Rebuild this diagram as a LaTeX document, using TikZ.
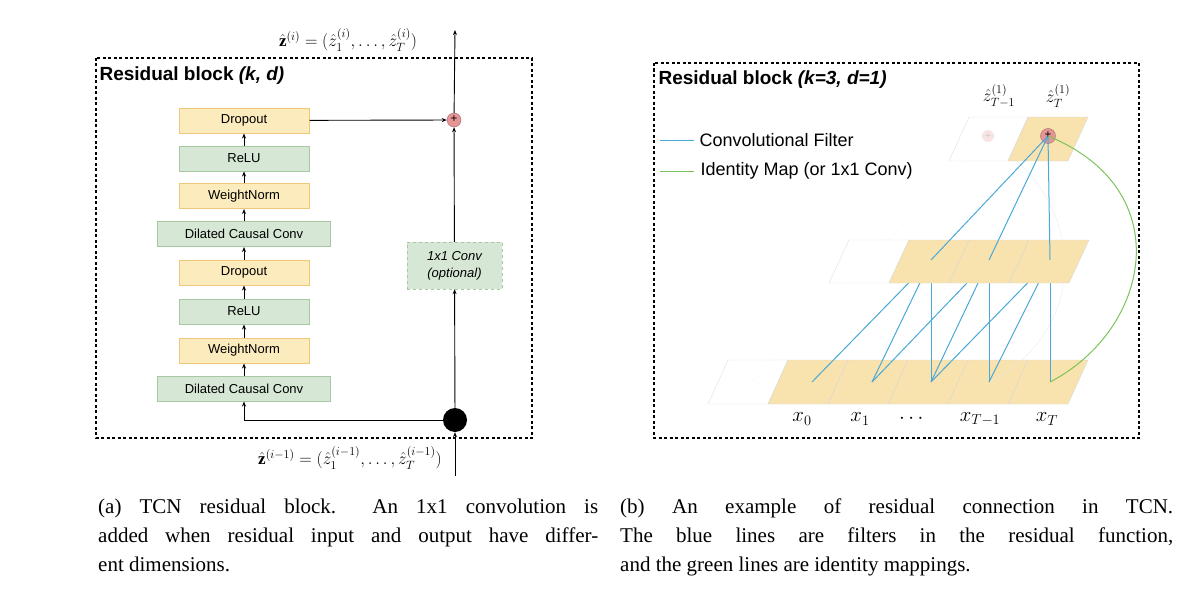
\documentclass[tikz,border=0pt]{standalone}
\usepackage{amsmath}
\usepackage{fontspec}
\setmainfont{Liberation Serif}
\newfontfamily\mysans{Liberation Sans}
\usetikzlibrary{arrows.meta}
\definecolor{yfill}{HTML}{FCEBBD}
\definecolor{ydraw}{HTML}{EFC77A}
\definecolor{gfill}{HTML}{D6E8D5}
\definecolor{gdraw}{HTML}{A8C8A4}
\definecolor{cell}{HTML}{F8E2AD}
\definecolor{blu}{HTML}{4AA8D8}
\definecolor{grn}{HTML}{7CC45A}
\definecolor{plusred}{HTML}{E69595}
\begin{document}
\begin{tikzpicture}[x=1pt,y=-1pt,
  yb/.style={draw=ydraw,fill=yfill,line width=1pt,minimum height=25pt,inner sep=0pt,font=\mysans\fontsize{13}{13}\selectfont},
  gb/.style={draw=gdraw,fill=gfill,line width=1pt,minimum height=25pt,inner sep=0pt,font=\mysans\fontsize{13}{13}\selectfont},
  arr/.style={-{Stealth[length=5pt,width=4pt]},line width=0.9pt},
  dbox/.style={draw,line width=1.4pt,dash pattern=on 3pt off 2.5pt},
  ttl/.style={anchor=west,font=\mysans\bfseries\fontsize{19}{19}\selectfont},
  c/.style={fill=cell,draw=white!85!black,line width=0.4pt},
  w/.style={fill=white,draw=black!12,line width=0.4pt},
  bl/.style={blu,line width=1pt},
  captxt/.style={anchor=north west,inner sep=0pt,font=\fontsize{21}{29}\selectfont}]
\useasboundingbox (0,0) rectangle (1180,602);
% ---------- left panel
\draw[dbox] (96,58) rectangle (532,438);
\node[ttl] at (96,76) {Residual block \textit{(k, d)}};
\node[yb,minimum width=130pt] (d1) at (244,120.5) {Dropout};
\node[gb,minimum width=130pt] (r1) at (244,158.5) {ReLU};
\node[yb,minimum width=130pt] (w1) at (244,196) {WeightNorm};
\node[gb,minimum width=173pt] (c1) at (244,234) {Dilated Causal Conv};
\node[yb,minimum width=130pt] (d2) at (244,272.5) {Dropout};
\node[gb,minimum width=130pt] (r2) at (244,311.5) {ReLU};
\node[yb,minimum width=130pt] (w2) at (244,350.5) {WeightNorm};
\node[gb,minimum width=173pt] (c2) at (244,388.5) {Dilated Causal Conv};
\node[draw=gdraw,fill=gfill,dashed,minimum width=95pt,minimum height=47pt,align=center,font=\mysans\itshape\fontsize{13}{17}\selectfont] (one) at (454.5,265.5) {1x1 Conv\\(optional)};
\node[circle,fill=plusred,draw=plusred!70!black,line width=0.4pt,minimum size=14pt,inner sep=0pt] (plus) at (454,120) {};
\node[font=\bfseries\fontsize{12}{12}\selectfont] at (454,119.5) {+};
\node[circle,fill=black,minimum size=24pt,inner sep=0pt] (dot) at (455,420) {};
\coordinate (top) at (455,30);
\coordinate (bot) at (455,476);
\foreach \a/\b in {c2/w2,w2/r2,r2/d2,d2/c1,c1/w1,w1/r1,r1/d1}
  \draw[arr] (\a) -- (\b);
\draw[arr] (d1) -- (plus);
\draw[arr] (dot) -- (one);
\draw[arr] (one) -- (plus);
\draw[arr] (plus) -- (top);
\draw[arr] (bot) -- (dot);
\draw[arr] (dot) -| (c2);
\node[font=\fontsize{17}{17}\selectfont] at (348,40) {$\hat{\mathbf{z}}^{(i)}=(\hat{z}^{(i)}_1,\ldots,\hat{z}^{(i)}_T)$};
\node[font=\fontsize{17}{17}\selectfont] at (350,458) {$\hat{\mathbf{z}}^{(i-1)}=(\hat{z}^{(i-1)}_1,\ldots,\hat{z}^{(i-1)}_T)$};
% ---------- right panel
\draw[dbox] (654,63) rectangle (1139,438);
\node[ttl] at (655,80) {Residual block \textit{(k=3, d=1)}};
% bottom row
\draw[w] (708,404) -- (768,404) -- (788,360) -- (728,360) -- cycle;
\foreach \i in {0,...,4}
  \draw[c] (768+60*\i,404) -- (828+60*\i,404) -- (848+60*\i,360) -- (788+60*\i,360) -- cycle;
% faint guides
\draw[black!10,dotted] (988,136) -- (870,258);
\draw[black!10,dotted] (870,258) -- (752,382);
\draw[black!8] (988,140) .. controls (1090,200) and (1090,330) .. (990,382);
% mid to bottom lines
\foreach \m/\bs in {931/{812,872,931},989/{872,931,989},1050/{931,989,1050}}
  \foreach \b in \bs
    \draw[bl] (\m,260) -- (\b,382);
% middle row
\draw[w] (829,283) -- (889,283) -- (909,240) -- (849,240) -- cycle;
\foreach \i in {0,...,2}
  \draw[c] (889+60*\i,283) -- (949+60*\i,283) -- (969+60*\i,240) -- (909+60*\i,240) -- cycle;
% top row
\draw[w] (949,161) -- (1008,161) -- (1028,117) -- (969,117) -- cycle;
\draw[c] (1008,161) -- (1068,161) -- (1088,117) -- (1028,117) -- cycle;
\node[circle,fill=plusred!25,minimum size=12pt,inner sep=0pt] (fp) at (988,136) {};
\node[black!20,font=\bfseries\fontsize{11}{11}\selectfont] at (988,136) {+};
\node[circle,fill=plusred,draw=plusred!70!black,line width=0.4pt,minimum size=15pt,inner sep=0pt] (p2) at (1048,136) {};
\foreach \m in {931,989,1050}
  \draw[bl] (p2.center) -- (\m,260);
\node[font=\bfseries\fontsize{12}{12}\selectfont] at (1048,135.5) {+};
\coordinate (xt) at (1050,382);
\draw[grn,line width=1pt] (p2.center) .. controls (1180,190) and (1150,330) .. (xt);
% legend
\draw[blu,line width=1pt] (660,140) -- (694,140);
\node[anchor=west,font=\mysans\fontsize{18}{18}\selectfont] at (696,140) {Convolutional Filter};
\draw[grn,line width=1pt] (660,171) -- (694,171);
\node[anchor=west,font=\mysans\fontsize{18}{18}\selectfont] at (697,171) {Identity Map (or 1x1 Conv)};
% labels
\node[font=\fontsize{18}{18}\selectfont] at (999,96) {$\hat{z}^{(1)}_{T-1}$};
\node[font=\fontsize{18}{18}\selectfont] at (1058,96) {$\hat{z}^{(1)}_{T}$};
\foreach \x/\t in {802/x_0,860/x_1,913/\cdots,980/x_{T-1},1047/x_T}
  \node[font=\fontsize{20}{20}\selectfont] at (\x,419) {$\t$};
% captions
\node[captxt] at (98,499) {\parbox{500pt}{\fontsize{21}{29}\selectfont (a) TCN residual block.\ \ An 1x1 convolution is\linebreak added when residual input and output have differ-\linebreak ent dimensions.}};
\node[captxt] at (620,499) {\parbox{553pt}{\fontsize{21}{29}\selectfont (b) An example of residual connection in TCN.\linebreak The blue lines are filters in the residual function,\linebreak and the green lines are identity mappings.}};
\end{tikzpicture}
\end{document}
